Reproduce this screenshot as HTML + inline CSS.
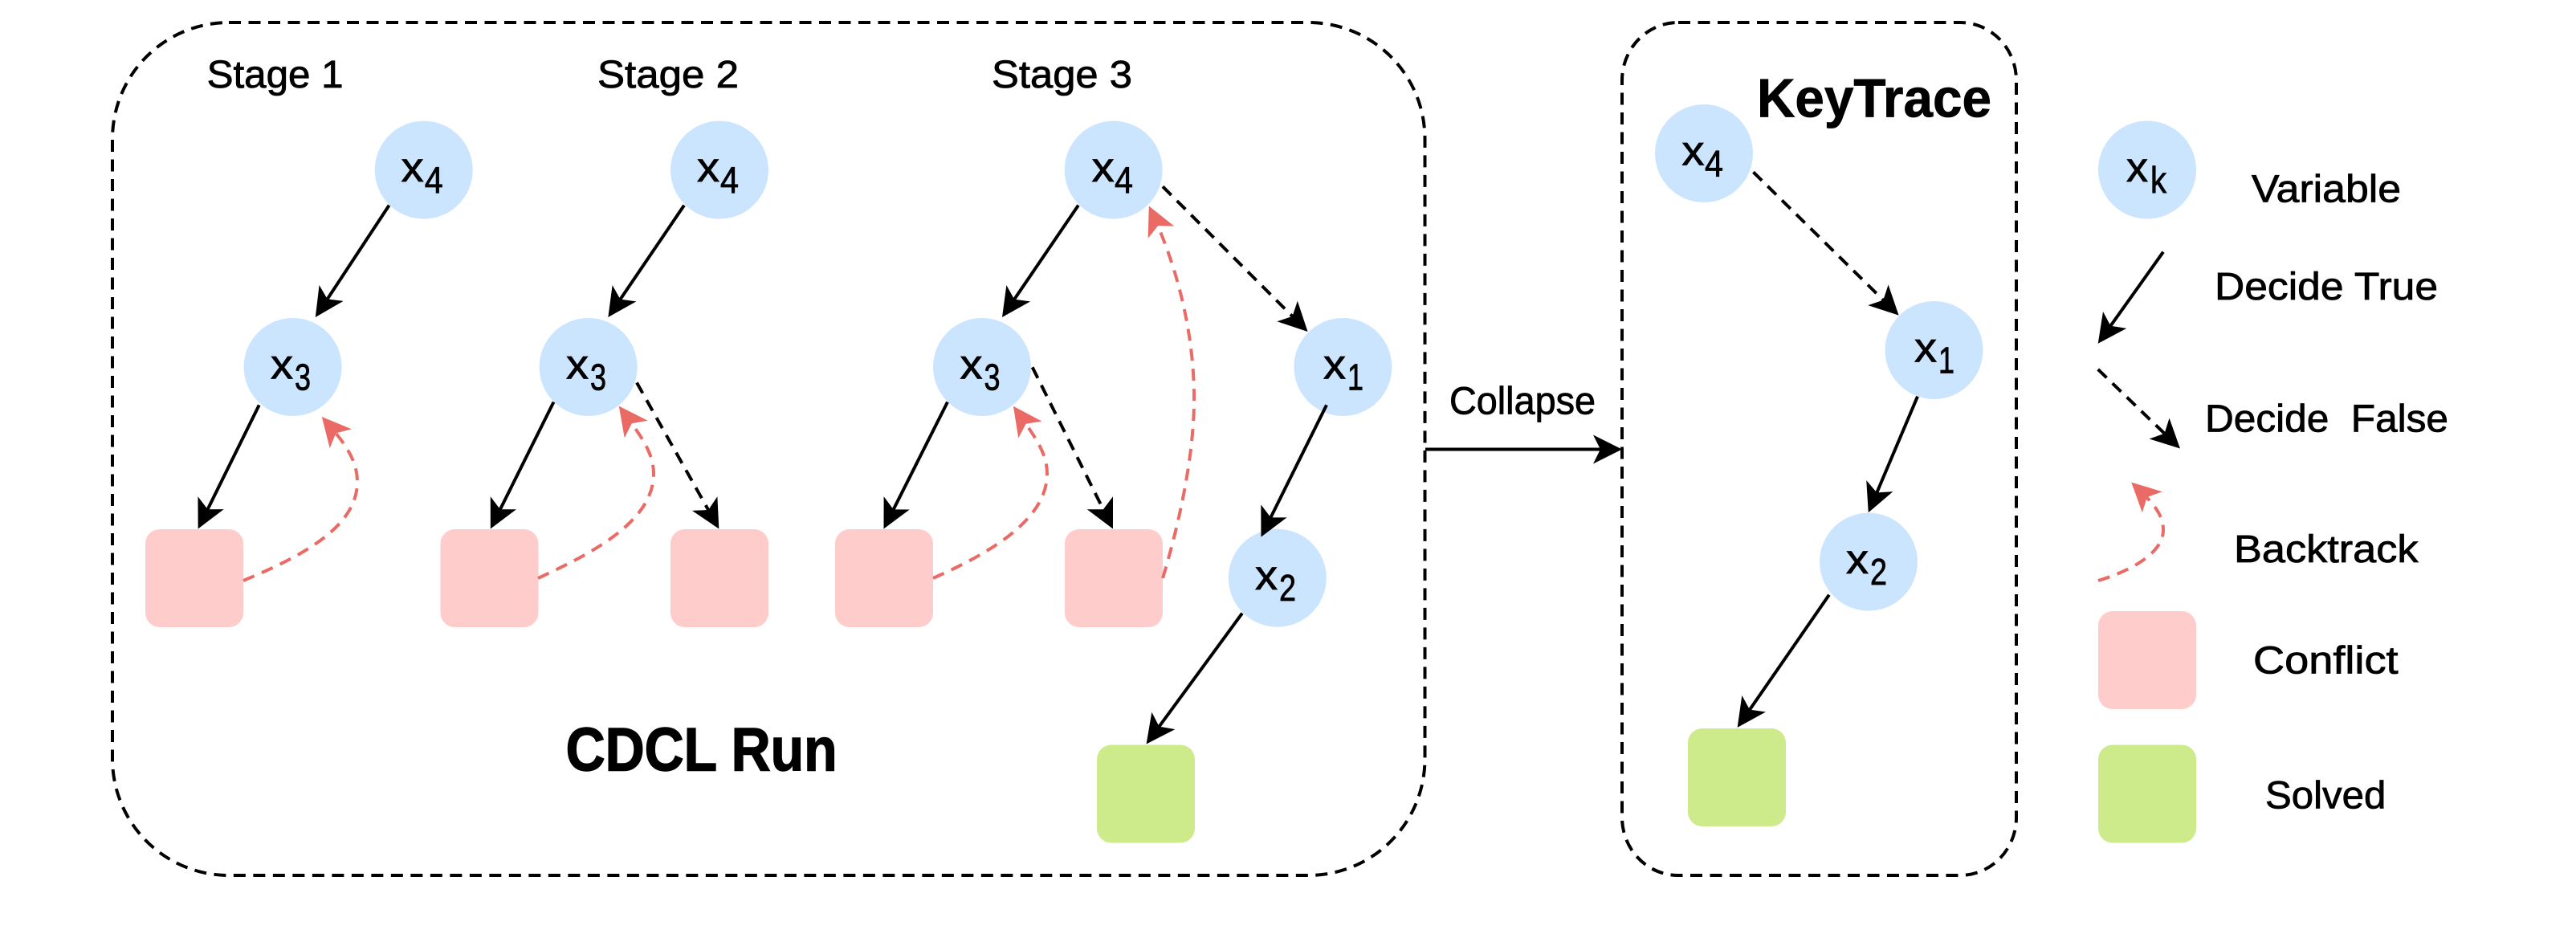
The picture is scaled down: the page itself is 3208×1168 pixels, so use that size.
<!DOCTYPE html>
<html>
<head>
<meta charset="utf-8">
<title>CDCL Run and KeyTrace</title>
<style>
html,body{margin:0;padding:0;background:#fff;width:3208px;height:1168px;overflow:hidden}
svg{display:block}
text{font-family:"Liberation Sans",sans-serif;fill:#000;white-space:pre;stroke:#000;stroke-width:.8px}
.lbl{font-size:48px}
.x{font-size:52px}
.s{font-size:46px}
.k{fill:none;stroke:#000;stroke-width:4;marker-end:url(#ak)}
.d{fill:none;stroke:#000;stroke-width:4;stroke-dasharray:15 10;marker-end:url(#ak)}
.r{fill:none;stroke:#EA6B66;stroke-width:4;stroke-dasharray:15 10;marker-end:url(#ar)}
.box{fill:none;stroke:#000;stroke-width:4;stroke-dasharray:15 9.5}
.c{fill:#CCE5FF}
.p{fill:#FFCCCC}
.g{fill:#CDEB8B}
</style>
</head>
<body>
<svg width="3208" height="1168" viewBox="0 0 3208 1168" xmlns="http://www.w3.org/2000/svg">
<defs>
<marker id="ak" markerUnits="userSpaceOnUse" markerWidth="60" markerHeight="60" refX="28" refY="30" orient="auto" overflow="visible"><path d="M0,12 L9,30 L0,48 L36,30 Z" fill="#000"/></marker>
<marker id="ar" markerUnits="userSpaceOnUse" markerWidth="60" markerHeight="60" refX="28" refY="30" orient="auto" overflow="visible"><path d="M0,12 L9,30 L0,48 L36,30 Z" fill="#EA6B66"/></marker>
</defs>
<rect width="3208" height="1168" fill="#fff"/>

<!-- containers -->
<rect class="box" x="140" y="28" width="1634.5" height="1062" rx="145" ry="145"/>
<rect class="box" x="2020" y="28" width="491" height="1062" rx="70" ry="72"/>

<!-- shapes -->
<circle class="c" cx="527.7" cy="211.6" r="61"/>
<circle class="c" cx="364.6" cy="457" r="61"/>
<circle class="c" cx="896" cy="211.6" r="61"/>
<circle class="c" cx="732.6" cy="457" r="61"/>
<circle class="c" cx="1386.7" cy="211.6" r="61"/>
<circle class="c" cx="1223" cy="457" r="61"/>
<circle class="c" cx="1672.4" cy="457" r="61"/>
<circle class="c" cx="1590.8" cy="719.7" r="61"/>
<circle class="c" cx="2122" cy="191" r="61"/>
<circle class="c" cx="2408.5" cy="436" r="61"/>
<circle class="c" cx="2327" cy="699.6" r="61"/>
<circle class="c" cx="2674" cy="211.5" r="61"/>

<rect class="p" x="181" y="659" width="122" height="122" rx="18"/>
<rect class="p" x="548.5" y="659" width="122" height="122" rx="18"/>
<rect class="p" x="835" y="659" width="122" height="122" rx="18"/>
<rect class="p" x="1040" y="659" width="122" height="122" rx="18"/>
<rect class="p" x="1326" y="659" width="122" height="122" rx="18"/>
<rect class="g" x="1366" y="927.5" width="122" height="122" rx="18"/>
<rect class="g" x="2102" y="907" width="122" height="122" rx="18"/>
<rect class="p" x="2613" y="761" width="122" height="122" rx="18"/>
<rect class="g" x="2613" y="927.5" width="122" height="122" rx="18"/>

<!-- connectors -->
<path class="k" d="M484.6,255.6 L397.2,388.3"/>
<path class="k" d="M852,255.6 L761.8,388.4"/>
<path class="k" d="M322.7,504.4 L250.2,651.3"/>
<path class="k" d="M689.5,500.6 L614.4,651.3"/>
<path class="d" d="M793,476.5 L891.4,651.5"/>
<path class="k" d="M1342.9,255.6 L1252.5,388.4"/>
<path class="k" d="M1180,500.6 L1104.1,651.4"/>
<path class="d" d="M1285.7,457.3 L1382.4,651.3"/>
<path class="d" d="M1448,232.3 L1622.9,407.3"/>
<path class="k" d="M1652,504.4 L1574,661.4"/>
<path class="k" d="M1547,763.6 L1432.3,920"/>
<path class="k" d="M1775,559.5 L2012,559.5"/>
<path class="d" d="M2183.5,214.3 L2358.9,387"/>
<path class="k" d="M2388,493.7 L2329.9,630.9"/>
<path class="k" d="M2277.9,740.7 L2168.2,899.3"/>
<path class="k" d="M2694,313.7 L2617.4,421.2"/>
<path class="d" d="M2612.7,459.9 L2709.2,553"/>

<path class="r" d="M303,723 C365,697 445,660 445,600 C445,570 425,547 406,525"/>
<path class="r" d="M670,720 C735,690 814,650 814,590 C814,565 800,545 775.5,512"/>
<path class="r" d="M1162,720 C1225,692 1304,650 1304,590 C1304,565 1290,545 1266.6,512.3"/>
<path class="r" d="M1448,720 C1475,630 1488,550 1487,490 C1486,410 1465,330 1434.2,263.8"/>
<path class="r" d="M2613,723 C2650,712 2694,690 2694,660 C2694,640 2680,625 2660,606"/>

<!-- labels -->
<text class="lbl" x="257.6" y="109" textLength="170" lengthAdjust="spacingAndGlyphs">Stage 1</text>
<text class="lbl" x="744" y="109" textLength="176" lengthAdjust="spacingAndGlyphs">Stage 2</text>
<text class="lbl" x="1235" y="109" textLength="175" lengthAdjust="spacingAndGlyphs">Stage 3</text>
<text class="lbl" x="1805" y="515.5" textLength="182" lengthAdjust="spacingAndGlyphs">Collapse</text>
<text x="704.6" y="959.4" font-size="76" font-weight="bold" style="stroke-width:1.5px" textLength="338" lengthAdjust="spacingAndGlyphs">CDCL Run</text>
<text x="2188" y="145.4" font-size="68" font-weight="bold" textLength="292" lengthAdjust="spacingAndGlyphs">KeyTrace</text>
<text class="lbl" x="2804" y="251.7" textLength="186" lengthAdjust="spacingAndGlyphs">Variable</text>
<text class="lbl" x="2758" y="373" textLength="278" lengthAdjust="spacingAndGlyphs">Decide True</text>
<text class="lbl" x="2746" y="537.6" textLength="303" lengthAdjust="spacingAndGlyphs" xml:space="preserve">Decide  False</text>
<text class="lbl" x="2782" y="700.2" textLength="229.5" lengthAdjust="spacingAndGlyphs">Backtrack</text>
<text class="lbl" x="2806" y="838.7" textLength="180.6" lengthAdjust="spacingAndGlyphs">Conflict</text>
<text class="lbl" x="2821" y="1006.7" textLength="150.3" lengthAdjust="spacingAndGlyphs">Solved</text>

<!-- node labels -->
<text class="x" x="499.7" y="226" textLength="28" lengthAdjust="spacingAndGlyphs">x</text><text class="s" x="528.7" y="240" textLength="23" lengthAdjust="spacingAndGlyphs">4</text>
<text class="x" x="337" y="471.5" textLength="28" lengthAdjust="spacingAndGlyphs">x</text><text class="s" x="367" y="485.5" textLength="20" lengthAdjust="spacingAndGlyphs">3</text>
<text class="x" x="868" y="226" textLength="28" lengthAdjust="spacingAndGlyphs">x</text><text class="s" x="897" y="240" textLength="23" lengthAdjust="spacingAndGlyphs">4</text>
<text class="x" x="705" y="471.5" textLength="28" lengthAdjust="spacingAndGlyphs">x</text><text class="s" x="735" y="485.5" textLength="20" lengthAdjust="spacingAndGlyphs">3</text>
<text class="x" x="1359.7" y="226" textLength="28" lengthAdjust="spacingAndGlyphs">x</text><text class="s" x="1388" y="240" textLength="23" lengthAdjust="spacingAndGlyphs">4</text>
<text class="x" x="1195.5" y="471.5" textLength="28" lengthAdjust="spacingAndGlyphs">x</text><text class="s" x="1225.5" y="485.5" textLength="20" lengthAdjust="spacingAndGlyphs">3</text>
<text class="x" x="1648" y="471.5" textLength="28" lengthAdjust="spacingAndGlyphs">x</text><text class="s" x="1678" y="485.5" textLength="20" lengthAdjust="spacingAndGlyphs">1</text>
<text class="x" x="1563" y="734" textLength="28" lengthAdjust="spacingAndGlyphs">x</text><text class="s" x="1593" y="748" textLength="21" lengthAdjust="spacingAndGlyphs">2</text>
<text class="x" x="2094.5" y="205.5" textLength="28" lengthAdjust="spacingAndGlyphs">x</text><text class="s" x="2123" y="219.5" textLength="23" lengthAdjust="spacingAndGlyphs">4</text>
<text class="x" x="2384" y="450.5" textLength="28" lengthAdjust="spacingAndGlyphs">x</text><text class="s" x="2414" y="464.5" textLength="20" lengthAdjust="spacingAndGlyphs">1</text>
<text class="x" x="2299" y="714" textLength="28" lengthAdjust="spacingAndGlyphs">x</text><text class="s" x="2329" y="728" textLength="21" lengthAdjust="spacingAndGlyphs">2</text>
<text class="x" x="2648" y="226" textLength="27" lengthAdjust="spacingAndGlyphs">x</text><text class="s" x="2678" y="240" textLength="20" lengthAdjust="spacingAndGlyphs">k</text>
</svg>
</body>
</html>
